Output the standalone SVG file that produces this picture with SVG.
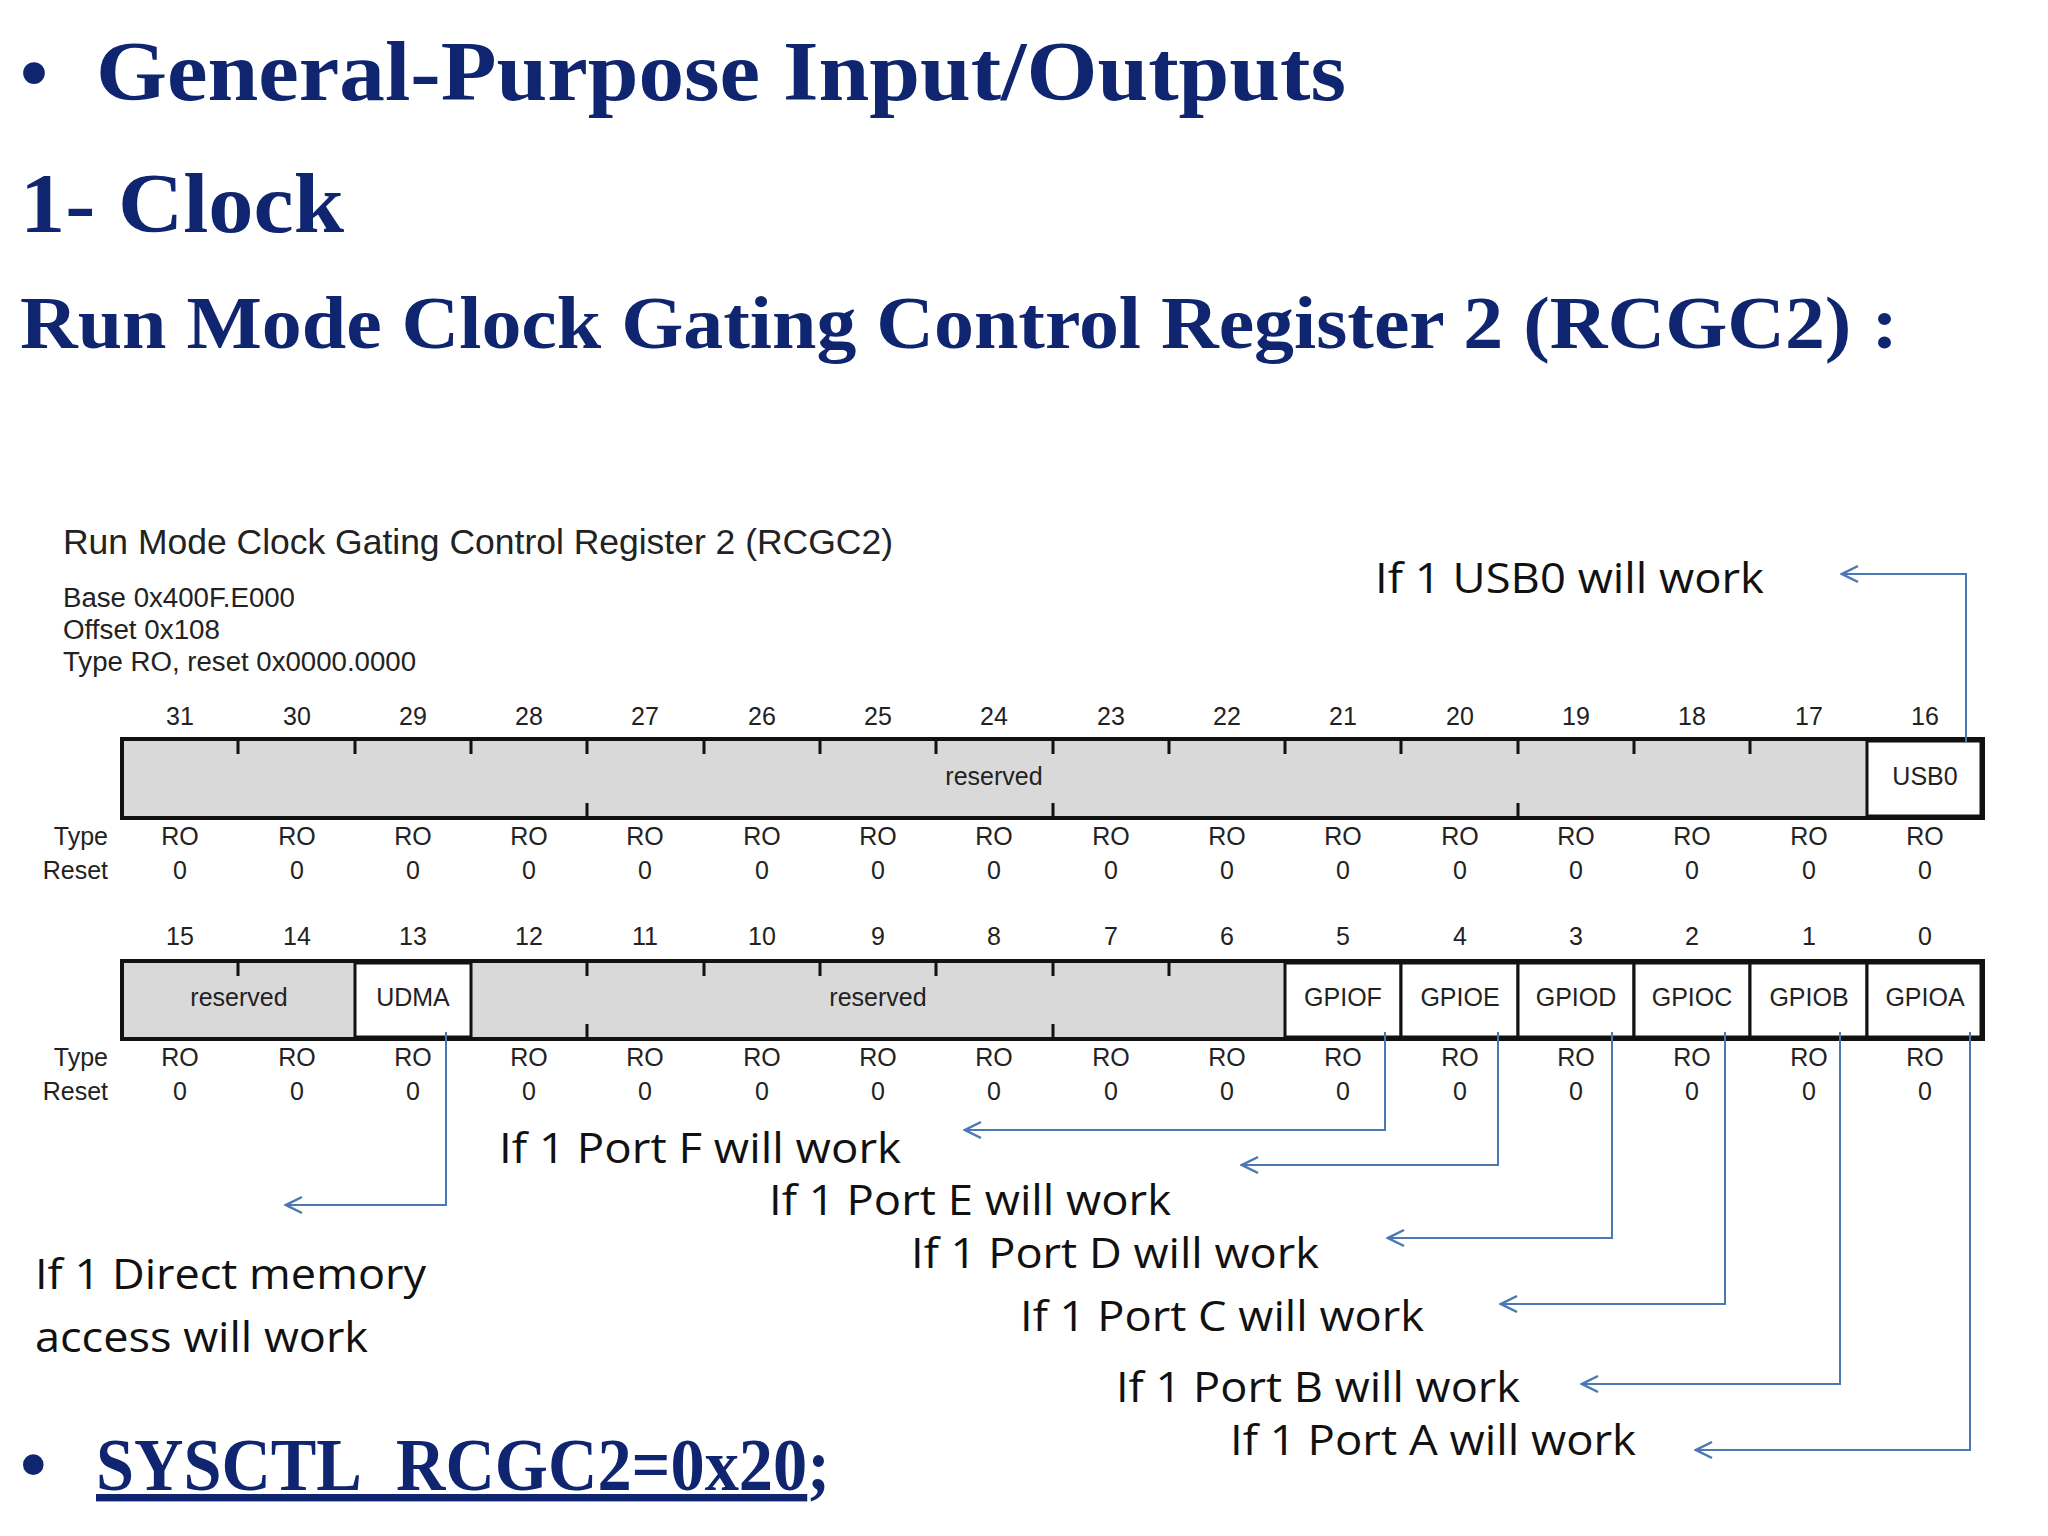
<svg xmlns="http://www.w3.org/2000/svg" width="2048" height="1536" viewBox="0 0 2048 1536">
<defs>
<style>
.h{font-family:"Liberation Serif",serif;font-weight:bold;fill:#0f2570}
.r{font-family:"Liberation Sans",Arial,sans-serif;fill:#222;font-size:25px;text-anchor:middle}
.rl{font-family:"Liberation Sans",Arial,sans-serif;fill:#222;font-size:25px;text-anchor:end}
.a{font-family:"Open Sans","Noto Sans",sans-serif;fill:#111;font-size:42px}
.box{fill:#d9d9d9;stroke:#111;stroke-width:4}
.w{fill:#fff;stroke:#111;stroke-width:3}
.tk{stroke:#111;stroke-width:3}
.c{fill:none;stroke:#4a78b4;stroke-width:2}
</style>
<marker id="ah" markerWidth="20" markerHeight="20" refX="18" refY="10" orient="auto" markerUnits="userSpaceOnUse">
<path d="M2,2 L18,10 L2,18" fill="none" stroke="#4a78b4" stroke-width="2.5"/>
</marker>
</defs>
<rect width="2048" height="1536" fill="#fff"/>
<g id="titles">
<text class="h" x="20" y="100" font-size="80">•</text>
<text class="h" x="96" y="100" font-size="84" textLength="1250" lengthAdjust="spacingAndGlyphs">General-Purpose Input/Outputs</text>
<text class="h" x="20" y="232" font-size="84" textLength="324" lengthAdjust="spacingAndGlyphs">1- Clock</text>
<text class="h" x="20" y="348" font-size="74" textLength="1878" lengthAdjust="spacingAndGlyphs">Run Mode Clock Gating Control Register 2 (RCGC2) :</text>
<text class="h" x="20" y="1490" font-size="76">•</text>
<text class="h" x="96" y="1490" font-size="74" textLength="734" lengthAdjust="spacingAndGlyphs"><tspan text-decoration="underline">SYSCTL_RCGC2=0x20</tspan>;</text>
</g>
<g id="reghead" font-family="Liberation Sans,Arial,sans-serif" fill="#222">
<text x="63" y="554" font-size="35" textLength="830" lengthAdjust="spacingAndGlyphs">Run Mode Clock Gating Control Register 2 (RCGC2)</text>
<text x="63" y="607" font-size="27" textLength="232" lengthAdjust="spacingAndGlyphs">Base 0x400F.E000</text>
<text x="63" y="639" font-size="27" textLength="157" lengthAdjust="spacingAndGlyphs">Offset 0x108</text>
<text x="63" y="671" font-size="27" textLength="353" lengthAdjust="spacingAndGlyphs">Type RO, reset 0x0000.0000</text>
</g>
<g id="row1">
<g class="r">
<text x="180" y="725">31</text><text x="297" y="725">30</text><text x="413" y="725">29</text><text x="529" y="725">28</text><text x="645" y="725">27</text><text x="762" y="725">26</text><text x="878" y="725">25</text><text x="994" y="725">24</text><text x="1111" y="725">23</text><text x="1227" y="725">22</text><text x="1343" y="725">21</text><text x="1460" y="725">20</text><text x="1576" y="725">19</text><text x="1692" y="725">18</text><text x="1809" y="725">17</text><text x="1925" y="725">16</text>
</g>
<rect class="box" x="122" y="739" width="1861" height="79"/>
<rect class="w" x="1867" y="741" width="114" height="75"/>
<path class="tk" d="M238,741v13M355,741v13M471,741v13M587,741v13M704,741v13M820,741v13M936,741v13M1053,741v13M1169,741v13M1285,741v13M1401,741v13M1518,741v13M1634,741v13M1750,741v13M587,816v-13M1053,816v-13M1518,816v-13"/>
<text class="r" x="994" y="785">reserved</text>
<text class="r" x="1925" y="785">USB0</text>
<text class="rl" x="108" y="845">Type</text><text class="rl" x="108" y="879">Reset</text>
<g class="r">
<text x="180" y="845">RO</text><text x="297" y="845">RO</text><text x="413" y="845">RO</text><text x="529" y="845">RO</text><text x="645" y="845">RO</text><text x="762" y="845">RO</text><text x="878" y="845">RO</text><text x="994" y="845">RO</text><text x="1111" y="845">RO</text><text x="1227" y="845">RO</text><text x="1343" y="845">RO</text><text x="1460" y="845">RO</text><text x="1576" y="845">RO</text><text x="1692" y="845">RO</text><text x="1809" y="845">RO</text><text x="1925" y="845">RO</text>
<text x="180" y="879">0</text><text x="297" y="879">0</text><text x="413" y="879">0</text><text x="529" y="879">0</text><text x="645" y="879">0</text><text x="762" y="879">0</text><text x="878" y="879">0</text><text x="994" y="879">0</text><text x="1111" y="879">0</text><text x="1227" y="879">0</text><text x="1343" y="879">0</text><text x="1460" y="879">0</text><text x="1576" y="879">0</text><text x="1692" y="879">0</text><text x="1809" y="879">0</text><text x="1925" y="879">0</text>
</g>
</g>
<g id="row2">
<g class="r">
<text x="180" y="945">15</text><text x="297" y="945">14</text><text x="413" y="945">13</text><text x="529" y="945">12</text><text x="645" y="945">11</text><text x="762" y="945">10</text><text x="878" y="945">9</text><text x="994" y="945">8</text><text x="1111" y="945">7</text><text x="1227" y="945">6</text><text x="1343" y="945">5</text><text x="1460" y="945">4</text><text x="1576" y="945">3</text><text x="1692" y="945">2</text><text x="1809" y="945">1</text><text x="1925" y="945">0</text>
</g>
<rect class="box" x="122" y="961" width="1861" height="78"/>
<rect class="w" x="355" y="963" width="116" height="74"/>
<rect class="w" x="1285" y="963" width="116" height="74"/>
<rect class="w" x="1401" y="963" width="117" height="74"/>
<rect class="w" x="1518" y="963" width="116" height="74"/>
<rect class="w" x="1634" y="963" width="116" height="74"/>
<rect class="w" x="1750" y="963" width="117" height="74"/>
<rect class="w" x="1867" y="963" width="114" height="74"/>
<path class="tk" d="M238,963v13M587,963v13M704,963v13M820,963v13M936,963v13M1053,963v13M1169,963v13M587,1037v-13M1053,1037v-13"/>
<g class="r">
<text x="239" y="1006">reserved</text><text x="413" y="1006">UDMA</text><text x="878" y="1006">reserved</text>
<text x="1343" y="1006">GPIOF</text><text x="1460" y="1006">GPIOE</text><text x="1576" y="1006">GPIOD</text><text x="1692" y="1006">GPIOC</text><text x="1809" y="1006">GPIOB</text><text x="1925" y="1006">GPIOA</text>
</g>
<text class="rl" x="108" y="1066">Type</text><text class="rl" x="108" y="1100">Reset</text>
<g class="r">
<text x="180" y="1066">RO</text><text x="297" y="1066">RO</text><text x="413" y="1066">RO</text><text x="529" y="1066">RO</text><text x="645" y="1066">RO</text><text x="762" y="1066">RO</text><text x="878" y="1066">RO</text><text x="994" y="1066">RO</text><text x="1111" y="1066">RO</text><text x="1227" y="1066">RO</text><text x="1343" y="1066">RO</text><text x="1460" y="1066">RO</text><text x="1576" y="1066">RO</text><text x="1692" y="1066">RO</text><text x="1809" y="1066">RO</text><text x="1925" y="1066">RO</text>
<text x="180" y="1100">0</text><text x="297" y="1100">0</text><text x="413" y="1100">0</text><text x="529" y="1100">0</text><text x="645" y="1100">0</text><text x="762" y="1100">0</text><text x="878" y="1100">0</text><text x="994" y="1100">0</text><text x="1111" y="1100">0</text><text x="1227" y="1100">0</text><text x="1343" y="1100">0</text><text x="1460" y="1100">0</text><text x="1576" y="1100">0</text><text x="1692" y="1100">0</text><text x="1809" y="1100">0</text><text x="1925" y="1100">0</text>
</g>
</g>
<g id="connectors">
<path class="c" marker-end="url(#ah)" d="M1966,742V574H1842"/>
<path class="c" marker-end="url(#ah)" d="M446,1032V1205H286"/>
<path class="c" marker-end="url(#ah)" d="M1385,1032V1130H965"/>
<path class="c" marker-end="url(#ah)" d="M1498,1032V1165H1242"/>
<path class="c" marker-end="url(#ah)" d="M1612,1032V1238H1388"/>
<path class="c" marker-end="url(#ah)" d="M1725,1032V1304H1501"/>
<path class="c" marker-end="url(#ah)" d="M1840,1032V1384H1582"/>
<path class="c" marker-end="url(#ah)" d="M1970,1032V1450H1696"/>
</g>
<g id="annotations">
<text class="a" x="1375" y="593" textLength="389" lengthAdjust="spacingAndGlyphs">If 1 USB0 will work</text>
<text class="a" x="499" y="1163" textLength="402" lengthAdjust="spacingAndGlyphs">If 1 Port F will work</text>
<text class="a" x="769" y="1215" textLength="402" lengthAdjust="spacingAndGlyphs">If 1 Port E will work</text>
<text class="a" x="911" y="1268" textLength="408" lengthAdjust="spacingAndGlyphs">If 1 Port D will work</text>
<text class="a" x="1020" y="1331" textLength="404" lengthAdjust="spacingAndGlyphs">If 1 Port C will work</text>
<text class="a" x="1116" y="1402" textLength="404" lengthAdjust="spacingAndGlyphs">If 1 Port B will work</text>
<text class="a" x="1230" y="1455" textLength="406" lengthAdjust="spacingAndGlyphs">If 1 Port A will work</text>
<text class="a" x="35" y="1289" textLength="391" lengthAdjust="spacingAndGlyphs">If 1 Direct memory</text>
<text class="a" x="35" y="1352" textLength="333" lengthAdjust="spacingAndGlyphs">access will work</text>
</g>
</svg>
